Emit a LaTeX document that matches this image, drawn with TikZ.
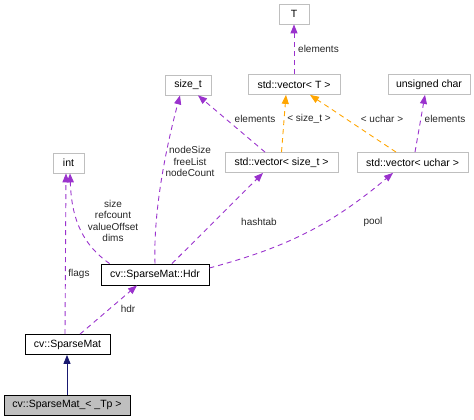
\documentclass[tikz,border=0pt]{standalone}
\usepackage{fontspec}
\setmainfont{Liberation Sans}
\usetikzlibrary{arrows.meta,calc}
\definecolor{edgepurple}{HTML}{9A32CD}
\definecolor{edgeorange}{HTML}{FFA500}
\definecolor{edgenavy}{HTML}{191970}
\definecolor{boxgray}{HTML}{BFBFBF}
\begin{document}
\begin{tikzpicture}[x=1pt,y=-1pt,
  box/.style={draw=boxgray, line width=0.8pt, minimum height=20pt, inner sep=0pt, font=\fontsize{10.5}{12}\selectfont},
  cls/.style={box, draw=black},
  tip/.style={-{Triangle[length=9pt,width=7pt]}},
  mem/.style={draw=edgepurple, dash pattern=on 5pt off 4pt, line width=0.9pt, tip},
  tmpl/.style={draw=edgeorange, dash pattern=on 5pt off 4pt, line width=0.9pt, tip},
  inh/.style={draw=edgenavy, line width=0.9pt, tip},
  lbl/.style={font=\fontsize{10}{11.5}\selectfont, align=center, inner sep=0pt, text=black!85}
]
\useasboundingbox (0,0) rectangle (474,420);
% nodes
\node[box, minimum width=30pt] (T) at (294,14) {T};
\node[box, minimum width=92pt] (vecT) at (294,84.5) {std::vector< T >};
\node[box, minimum width=82pt] (uch) at (429,84.5) {unsigned char};
\node[box, minimum width=46pt] (sizet) at (188,85) {size\_t};
\node[box, minimum width=113pt] (vecsize) at (281.5,162.5) {std::vector< size\_t >};
\node[box, minimum width=111pt] (vecuchar) at (412.5,162.5) {std::vector< uchar >};
\node[box, minimum width=31pt] (int) at (68.5,163) {int};
\node[cls, minimum width=108pt, minimum height=21pt] (hdr) at (155,274.5) {cv::SparseMat::Hdr};
\node[cls, minimum width=85pt] (sm) at (67.5,344.5) {cv::SparseMat};
\node[cls, minimum width=126pt, fill=boxgray] (smt) at (67,405) {cv::SparseMat\_< \_Tp >};
% edges
\draw[mem] (vecT.north) -- (T.south);
\node[lbl, anchor=west] (l1) at (298,49) {elements};
\draw[tmpl] (vecsize.north) -- ($(vecT.south)+(-8,0)$);
\node[lbl] (l2) at (309,119) {< size\_t >};
\draw[tmpl] ($(vecuchar.north)+(-16.5,0)$) -- ($(vecT.south)+(16,0)$);
\node[lbl] (l3) at (382,119) {< uchar >};
\draw[mem] ($(vecuchar.north)+(2.5,0)$) -- ($(uch.south)+(-4,0)$);
\node[lbl] (l4) at (445,119) {elements};
\draw[mem] ($(vecsize.north)+(-16.5,0)$) -- ($(sizet.south)+(10,0)$);
\node[lbl] (l5) at (255,119) {elements};
\draw[mem] (hdr.north) to[out=92, in=-105, looseness=0.8] ($(sizet.south)+(-8,0)$);
\node[lbl] (l6) at (190,161.5) {nodeSize\\freeList\\nodeCount};
\draw[mem] ($(hdr.north)+(17,0)$) -- ($(vecsize.south)+(-18.5,0)$);
\node[lbl] (l7) at (259,222) {hashtab};
\draw[mem] ($(hdr.east)+(0,-6.5)$) to[out=15, in=-140] ($(vecuchar.south)+(-19.5,0)$);
\node[lbl] (l8) at (373,222) {pool};
\draw[mem] ($(hdr.north west)+(9,0)$) to[out=145, in=-88] ($(int.south)+(1.5,0)$);
\node[lbl] (l9) at (113,221) {size\\refcount\\valueOffset\\dims};
\draw[mem] ($(sm.north)+(-2.5,0)$) -- ($(int.south)+(-2.5,0)$);
\node[lbl] (l10) at (79,274) {flags};
\draw[mem] ($(sm.north)+(12.5,0)$) -- ($(hdr.south)+(-18,0)$);
\node[lbl] (l11) at (128,309) {hdr};
\draw[inh] (smt.north) -- ($(sm.south)+(-0.5,0)$);
\end{tikzpicture}
\end{document}
